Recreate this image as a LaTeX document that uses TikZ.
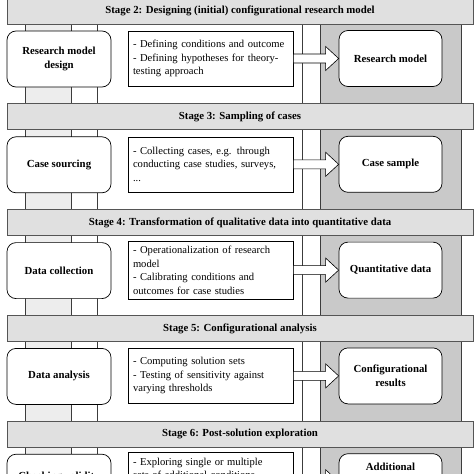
\documentclass[tikz,border=0pt]{standalone}
\usepackage{fontspec}
\setmainfont{Liberation Serif}
\usepackage{tikz}
\usetikzlibrary{calc}
\usepackage{xcolor}
\definecolor{lightStrip}{HTML}{EDEDED}
\definecolor{darkStrip}{HTML}{C9C9C9}
\definecolor{barFill}{HTML}{E0E0E0}
\definecolor{barLine}{HTML}{555555}
\definecolor{colLine}{HTML}{3C3C3C}
\tikzset{
    every picture/.style={
        font=\fontsize{10.6pt}{13.5pt}\selectfont,
        x=1pt,
        y=-1pt
    },
    % stage headers and boxes
    stagebar/.style={rectangle,draw=barLine,fill=barFill,line width=0.7pt,minimum width=466pt,minimum height=26pt,font=\fontsize{10.8pt}{13pt}\selectfont\bfseries},
    actbox/.style={rectangle,rounded corners=9pt,draw=black,fill=white,line width=0.7pt,minimum width=104pt,minimum height=56pt,align=center,font=\fontsize{10.8pt}{13.5pt}\selectfont\bfseries},
    taskbox/.style={rectangle,draw=black,fill=white,line width=0.6pt,text width=155pt,inner sep=5pt,minimum height=55pt,align=left},
    resbox/.style={rectangle,rounded corners=9pt,draw=black,fill=white,line width=0.7pt,minimum width=103pt,minimum height=56pt,align=center,font=\fontsize{10.8pt}{13.5pt}\selectfont\bfseries},
    % block arrow from task to result
    blockarrow/.style={draw=black,fill=white,line width=0.6pt,
        to path={($(\tikztostart.east)+(0,-4.5)$) -- ($(\tikztotarget.west)+(-13,-4.5)$)
            -- ($(\tikztotarget.west)+(-13,-12)$) -- (\tikztotarget.west)
            -- ($(\tikztotarget.west)+(-13,12)$) -- ($(\tikztotarget.west)+(-13,4.5)$)
            -- ($(\tikztostart.east)+(0,4.5)$) -- cycle}}
}

\begin{document}
\begin{tikzpicture}
    \useasboundingbox (0,0) rectangle (474,474);
    \clip (0,0) rectangle (474,474);
    \fill[white] (0,0) rectangle (474,474);

    % Background columns
    \fill[lightStrip] (25,0) rectangle (71,474);
    \fill[darkStrip] (320,0) rectangle (461,474);
    \draw[colLine, line width=0.7pt] (25,0) -- (25,474) (71,0) -- (71,474) (97,0) -- (97,474);
    \draw[colLine, line width=0.7pt] (302,0) -- (302,474) (320,0) -- (320,474) (461,0) -- (461,474);

    % Stage 2: Designing
    \node[stagebar] (s2) at (240,11) {Stage 2: Designing (initial) configurational research model};
    \node[actbox] (act2) at (59,59) {Research model\\design};
    \node[taskbox] (task2) at (210.5,58.5) {- Defining conditions and outcome\\- Defining hypotheses for theory-\\testing approach};
    \node[resbox] (res2) at (390.5,58.5) {Research model};
    \draw[blockarrow] (task2) to (res2);

    % Stage 3: Sampling
    \node[stagebar] (s3) at (240,116.8) {Stage 3: Sampling of cases};
    \node[actbox] (act3) at (59,164.8) {Case sourcing};
    \node[taskbox] (task3) at (210.5,164.3) {- Collecting cases, e.g. through\\conducting case studies, surveys,\\...};
    \node[resbox] (res3) at (390.5,164.3) {Case sample};
    \draw[blockarrow] (task3) to (res3);

    % Stage 4: Transformation
    \node[stagebar] (s4) at (240,222.6) {Stage 4: Transformation of qualitative data into quantitative data};
    \node[actbox] (act4) at (59,270.6) {Data collection};
    \node[taskbox] (task4) at (210.5,270.1) {- Operationalization of research\\model\\- Calibrating conditions and\\outcomes for case studies};
    \node[resbox] (res4) at (390.5,270.1) {Quantitative data};
    \draw[blockarrow] (task4) to (res4);

    % Stage 5: Analysis
    \node[stagebar] (s5) at (240,328.4) {Stage 5: Configurational analysis};
    \node[actbox] (act5) at (59,376.4) {Data analysis};
    \node[taskbox] (task5) at (210.5,375.9) {- Computing solution sets\\- Testing of sensitivity against\\varying thresholds};
    \node[resbox] (res5) at (390.5,375.9) {Configurational\\results};
    \draw[blockarrow] (task5) to (res5);

    % Stage 6: Post-solution (cut off at the bottom)
    \node[stagebar] (s6) at (240,434.2) {Stage 6: Post-solution exploration};
    \node[actbox] (act6) at (59,482.2) {Checking validity\\and robustness};
    \node[taskbox] (task6) at (210.5,481.7) {- Exploring single or multiple\\sets of additional conditions\\- Checking robustness of\\solutions};
    \node[resbox] (res6) at (390.5,481.7) {Additional\\configurational\\insights};
    \draw[blockarrow] (task6) to (res6);
\end{tikzpicture}
\end{document}
